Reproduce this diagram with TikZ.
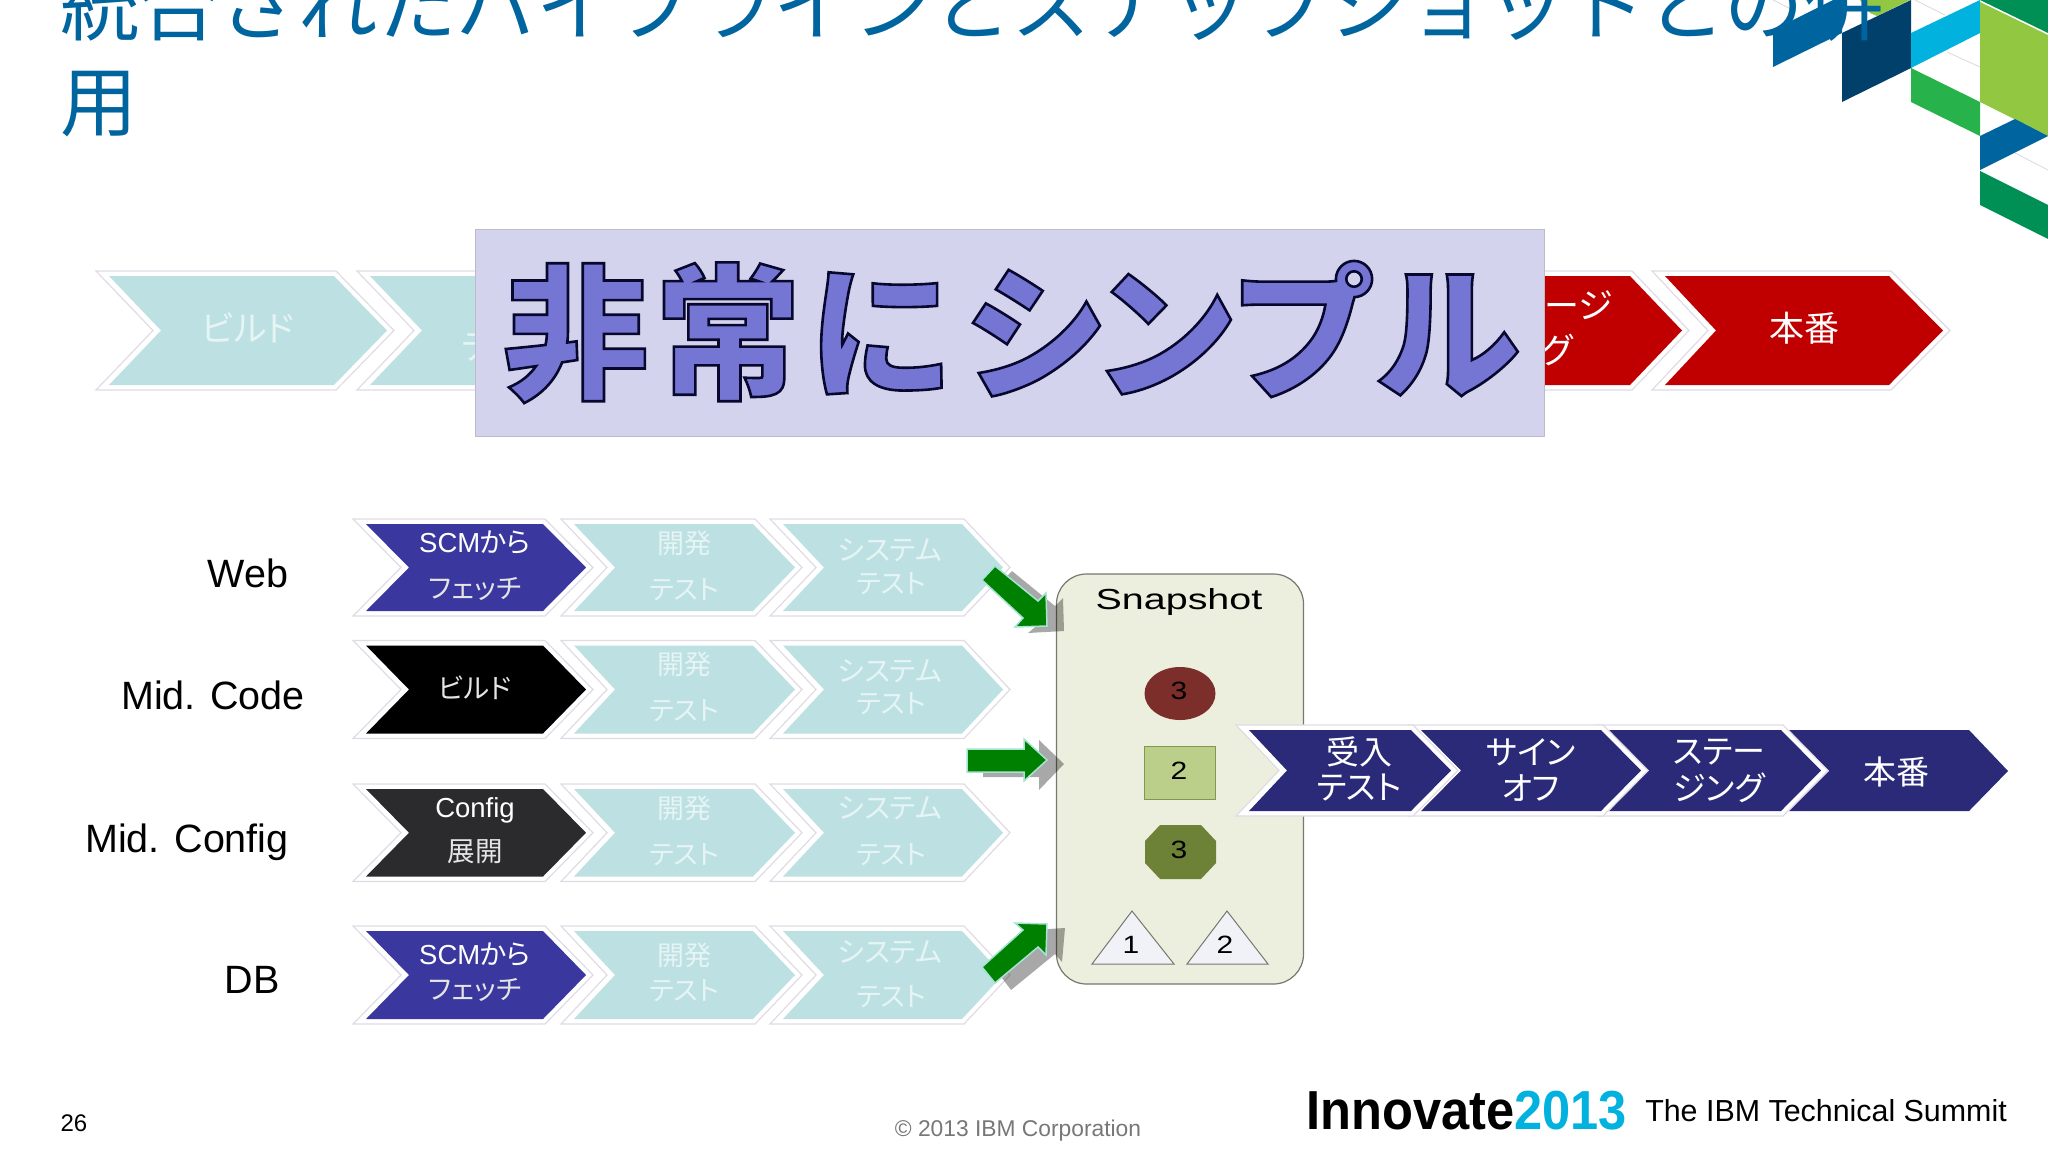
\documentclass[tikz,border=0pt]{standalone}
\usepackage{fontspec}
\usetikzlibrary{shapes.geometric}
\setmainfont{Liberation Sans}
\newfontfamily\jp{Noto Sans CJK JP}[RawFeature=+palt]
\newfontfamily\jpwide{Noto Sans CJK JP}
\definecolor{titleblue}{HTML}{00649E}
\definecolor{decoblue}{HTML}{00649E}
\definecolor{deconavy}{HTML}{00406B}
\definecolor{decocyan}{HTML}{00B2DD}
\definecolor{decolime}{HTML}{92C741}
\definecolor{decogreen}{HTML}{27B24B}
\definecolor{decodark}{HTML}{008F54}
\definecolor{pale}{HTML}{BDE1E3}
\definecolor{paletext}{HTML}{E6F4F4}
\definecolor{scm}{HTML}{3A389E}
\definecolor{cfg}{HTML}{2B2B2D}
\definecolor{red1}{HTML}{C00000}
\definecolor{navy1}{HTML}{2A2A78}
\definecolor{edgec}{HTML}{E0DBE5}
\definecolor{boxfill}{HTML}{D3D3EE}
\definecolor{boxline}{HTML}{BDBBC8}
\definecolor{snapfill}{HTML}{ECEFDD}
\definecolor{snapline}{HTML}{77776F}
\definecolor{arrowg}{HTML}{008000}
\definecolor{arrowe}{HTML}{A5E3D3}
\definecolor{snapmaroon}{HTML}{7B2E2A}
\definecolor{snapsquare}{HTML}{BBCF8A}
\definecolor{snapsqline}{HTML}{7E9A50}
\definecolor{snapocta}{HTML}{6E8237}
\definecolor{copyc}{HTML}{777777}
\definecolor{trifill}{HTML}{F1F2F8}
\newcommand{\fs}[1]{\fontsize{#1}{#1}\selectfont}
\newcommand{\chevr}[7]{% fill, x0, x1, xtip, xnotch, ytop, ybot
  \path[fill=white,draw=edgec,line width=1.2pt]
    (#2-13,#6-5) -- (#3+2,#6-5) -- (#4+7,{(#6+#7)/2}) -- (#3+2,#7+5) -- (#2-13,#7+5) -- (#5-8,{(#6+#7)/2}) -- cycle;
  \path[fill=#1] (#2,#6) -- (#3,#6) -- (#4,{(#6+#7)/2}) -- (#3,#7) -- (#2,#7) -- (#5,{(#6+#7)/2}) -- cycle;
}
\newcommand{\rowchev}[3]{% fill of first, ytop, ybot
  \chevr{pale}{783}{962}{1003}{824}{#2}{#3}
  \chevr{pale}{574}{753}{795}{615}{#2}{#3}
  \chevr{#1}{366}{543}{586}{409}{#2}{#3}
}
\tikzset{
  lab/.style={font=\fs{39.5},text=black,inner sep=0pt},
  stxt/.style={font=\jp\fs{27.5},text=white,inner sep=0pt},
  ptxt/.style={font=\jp\fs{27},text=paletext,inner sep=0pt},
  ttxt/.style={font=\jp\fs{35},text=white,inner sep=0pt},
  ntxt/.style={font=\jp\fs{33},text=white,inner sep=0pt},
  num/.style={font=\fs{25},text=black,xscale=1.2,inner sep=0pt},
  shadowp/.style={fill=black,fill opacity=.34},
  greenp/.style={fill=arrowg,draw=arrowe,line width=1.5pt,line join=miter},
  tri/.style={fill=trifill,draw=snapline,line width=1pt},
}
\begin{document}
\begin{tikzpicture}[x=1pt,y=-1pt]
\useasboundingbox (0,0) rectangle (2048,1152);
\begin{scope}
\clip (0,0) rectangle (2048,1152);
% corner decoration
\draw[black!15,line width=.8pt] (1773,0) -- (1795,11) (1915,0) -- (1945,15) (1947,52) -- (1980,67) (2015,153) -- (2048,170);
\fill[decolime] (1860,0) -- (1910,0) -- (1877,16) -- (1870,13) -- cycle;
\fill[decoblue] (1773,30) -- (1833,0) -- (1842,0) -- (1842,33) -- (1773,67) -- cycle;
\fill[deconavy] (1842,33) -- (1911,0) -- (1911,68) -- (1842,102) -- cycle;
\fill[decocyan] (1911,33) -- (1980,0) -- (1980,33) -- (1911,68) -- cycle;
\fill[decodark] (1980,0) -- (2048,0) -- (2048,33) -- cycle;
\fill[decolime] (1980,2) -- (2048,35) -- (2048,136) -- (1980,102) -- cycle;
\fill[decogreen] (1911,68) -- (1980,102) -- (1980,136) -- (1911,102) -- cycle;
\fill[decoblue] (1980,136) -- (2015,119) -- (2048,136) -- (1980,170) -- cycle;
\fill[decodark] (1980,171) -- (2048,205) -- (2048,239) -- (1980,205) -- cycle;
% title
\node[anchor=base west,inner sep=0pt,text=titleblue,font=\jpwide\fs{79.3}] (title1) at (60,34) {統合されたパイプラインとスナップショットとの併};
\node[anchor=base west,inner sep=0pt,text=titleblue,font=\jpwide\fs{77}] (title2) at (60,130) {用};
\end{scope}
% top row
\chevr{red1}{1665}{1889}{1943}{1716}{276}{385}
\chevr{red1}{1405}{1630}{1682}{1457}{276}{385}
\chevr{pale}{370}{595}{648}{422}{276}{385}
\chevr{pale}{109}{334}{387}{161}{276}{385}
\node[ttxt,text=paletext] (tbuild) at (248,328) {ビルド};
\node[ttxt] (thon) at (1804,328) {本番};
\node[ttxt,anchor=east] (tsta1) at (1613,305) {ージ};
\node[ttxt,anchor=east] (tsta2) at (1573,350) {グ};
\node[ttxt,text=paletext] (tte) at (478,347) {テ};
\node[draw=boxline,fill=boxfill,line width=1pt,minimum width=1069pt,minimum height=207pt,inner sep=0pt] (simple) at (1009.5,332.5) {};
\node[inner sep=0pt,font=\jpwide\bfseries\fs{146}] (simpletxt) at (1012,332)
  {\special{pdf:code 2 Tr 2.6 w 0.03 0.03 0.18 RG 0.46 0.46 0.83 rg}非\kern6pt 常\kern7pt に\kern9pt シ\kern-17pt ン\kern-9pt プル\special{pdf:code 0 Tr}};
% rows
\rowchev{scm}{524}{611}
\rowchev{black}{645.5}{733.5}
\rowchev{cfg}{789}{876.5}
\rowchev{scm}{931}{1019}
% row labels
\node[lab] (lweb) at (248,573) {Web};
\node[lab] (lcode) at (213,695) {Mid. Code};
\node[lab] (lcfg) at (187,842) {Mid. Config};
\node[lab] (ldb) at (252,980) {DB};
% first column texts
\node[stxt] (a1) at (475,543) {{\fontspec{Liberation Sans}SCM}から};
\node[stxt,text=white!90!black] (a2) at (475,589) {フェッチ};
\node[stxt,text=white!90!black] (b1) at (475,688) {ビルド};
\node[stxt] (c1) at (475,810) {{\fontspec{Liberation Sans}Config}};
\node[stxt,text=white!90!black] (c2) at (475,852) {展開};
\node[stxt] (d1) at (475,955) {{\fontspec{Liberation Sans}SCM}から};
\node[stxt,text=white!90!black] (d2) at (475,990) {フェッチ};
% second column
\node[ptxt] (r1a) at (684,543) {開発};
\node[ptxt] (r1b) at (684,590) {テスト};
\node[ptxt] (r2a) at (684,664) {開発};
\node[ptxt] (r2b) at (684,711) {テスト};
\node[ptxt] (r3a) at (684,808) {開発};
\node[ptxt] (r3b) at (684,855) {テスト};
\node[ptxt] (r4a) at (684,955) {開発};
\node[ptxt] (r4b) at (684,991) {テスト};
% third column
\node[ptxt,font=\jp\fs{28.5}] (s1a) at (890,550) {システム};
\node[ptxt] (s1b) at (891,584) {テスト};
\node[ptxt,font=\jp\fs{28.5}] (s2a) at (890,671) {システム};
\node[ptxt] (s2b) at (891,704) {テスト};
\node[ptxt,font=\jp\fs{28.5}] (s3a) at (890,808) {システム};
\node[ptxt] (s3b) at (891,855) {テスト};
\node[ptxt,font=\jp\fs{28.5}] (s4a) at (890,952) {システム};
\node[ptxt] (s4b) at (891,997) {テスト};
% snapshot box
\node[draw=snapline,fill=snapfill,line width=1.2pt,rounded corners=30pt,minimum width=247pt,minimum height=410pt,inner sep=0pt] (snap) at (1180,779) {};
\node[font=\fs{29},xscale=1.36,inner sep=0pt] (snaptxt) at (1179,602) {Snapshot};
\node[ellipse,fill=snapmaroon,minimum width=71pt,minimum height=53pt,inner sep=0pt] (e3) at (1180,693.5) {};
\node[num] (e3t) at (1179,691) {3};
\node[rectangle,fill=snapsquare,draw=snapsqline,line width=1pt,minimum width=71pt,minimum height=53pt,inner sep=0pt] (sq2) at (1180,772.5) {};
\node[num] (sq2t) at (1179,771) {2};
\fill[snapocta] (1160,825) -- (1201,825) -- (1216,841) -- (1216,863) -- (1201,879) -- (1160,879) -- (1145,863) -- (1145,841) -- cycle;
\node[num] (o3t) at (1179,850) {3};
\draw[tri] (1132,911) -- (1174,964) -- (1092,964) -- cycle;
\draw[tri] (1227,911) -- (1268,964) -- (1187,964) -- cycle;
\node[num] (t1) at (1131,945) {1};
\node[num] (t2) at (1225,945) {2};
% shadows of the arrows
\fill[shadowp] (1012,571) -- (1055,606) -- (1063,598) -- (1064,631) -- (1028,633) -- (1040,623) -- (999,585) -- cycle;
\fill[shadowp] (983,753) -- (1039,753) -- (1039,740) -- (1064,764) -- (1039,790) -- (1039,777) -- (983,777) -- cycle;
\fill[shadowp] (999,974) -- (1040,937) -- (1032,930) -- (1065,928) -- (1062,962) -- (1055,954) -- (1011,990) -- cycle;
% green arrows
\draw[greenp] (995,566) -- (1038,601) -- (1046,593) -- (1047,626) -- (1015,627) -- (1023,618) -- (982,580) -- cycle;
\draw[greenp] (967,749) -- (1024,749) -- (1024,739) -- (1047,760) -- (1024,781) -- (1024,772) -- (967,772) -- cycle;
\draw[greenp] (982,967) -- (1023,930) -- (1015,923) -- (1047,924) -- (1046,955) -- (1038,947) -- (995,983) -- cycle;
% pipeline
\path[fill=navy1] (1789,730) -- (1969,730) -- (2008,771) -- (1969,811) -- (1789,811) -- (1829,771) -- cycle;
\chevr{navy1}{1609}{1781}{1821}{1649}{730}{811}
\chevr{navy1}{1421}{1601}{1641}{1461}{730}{811}
\chevr{navy1}{1249}{1411}{1451}{1287}{730}{811}
\node[ntxt] (p1a) at (1359,752) {受入};
\node[ntxt] (p1b) at (1359,788) {テスト};
\node[ntxt] (p2a) at (1531,752) {サイン};
\node[ntxt] (p2b) at (1531,788) {オフ};
\node[ntxt] (p3a) at (1719,752) {ステー};
\node[ntxt] (p3b) at (1719,788) {ジング};
\node[ntxt] (p4) at (1896,772) {本番};
% footer
\node[font=\fs{24},inner sep=0pt] (pageno) at (74,1123) {26};
\node[font=\fs{22.8},text=copyc,inner sep=0pt] (copy) at (1018,1131) {© 2013 IBM Corporation};
\node[font=\bfseries\fs{55},xscale=.92,inner sep=0pt,anchor=base west] (inno) at (1306,1129) {Innovate\textcolor{decocyan}{2013}};
\node[font=\fs{30.4},inner sep=0pt] (summit) at (1826,1111) {The IBM Technical Summit};
\end{tikzpicture}
\end{document}
